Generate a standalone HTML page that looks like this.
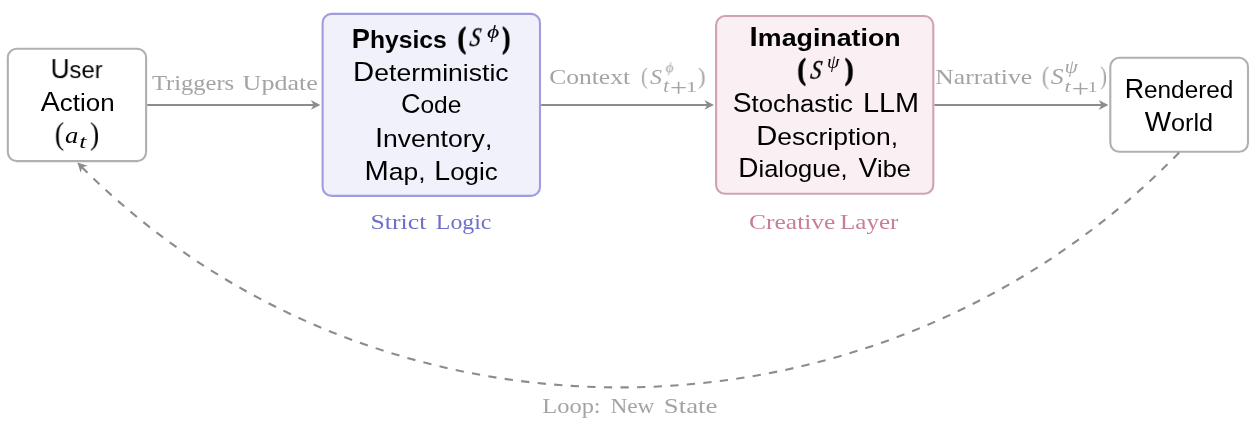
<!DOCTYPE html>
<html><head><meta charset="utf-8">
<style>
html,body{margin:0;padding:0;background:#fff;width:1255px;height:424px;overflow:hidden}
svg{display:block}
text{will-change:transform}
svg{will-change:transform}
</style></head>
<body>
<svg width="1255" height="424" viewBox="0 0 1255 424">
<rect x="7.8" y="48.7" width="138.3" height="112.4" rx="9" ry="9" fill="#fff" stroke="#b0b0b0" stroke-width="2.1"/>
<rect x="322.6" y="13.9" width="217.4" height="182" rx="9" ry="9" fill="#f1f1fc" stroke="#a09ddf" stroke-width="2.1"/>
<rect x="716.1" y="16" width="217.2" height="177.8" rx="9" ry="9" fill="#faeff2" stroke="#d0a2b6" stroke-width="2.1"/>
<rect x="1110.3" y="57.8" width="137.7" height="94" rx="9" ry="9" fill="#fff" stroke="#b0b0b0" stroke-width="2.1"/>
<g stroke="#8c8c8c" stroke-width="2" fill="none">
<line x1="147.2" y1="104.9" x2="314.5" y2="104.9"/>
<line x1="541.1" y1="104.9" x2="708" y2="104.9"/>
<line x1="934.4" y1="104.9" x2="1102" y2="104.9"/>
</g>
<g fill="#8c8c8c">
<path d="M320.4,104.9 L310.8,100 L313.7,104.9 L310.8,109.8 Z"/>
<path d="M714,104.9 L704.4,100 L707.3,104.9 L704.4,109.8 Z"/>
<path d="M1108.4,104.9 L1098.6,99.9 L1101.5,104.9 L1098.6,109.9 Z"/>
<path transform="translate(77.4 162.4) rotate(-134.6)" d="M0,0 L-9.6,-4.9 L-6.8,0 L-9.6,4.9 Z" transform-origin="0 0"/>
</g>
<path d="M1179.2,152.5 C881.1,459.4 378.8,468.4 77.5,162.8" fill="none" stroke="#8c8c8c" stroke-width="2.1" stroke-dasharray="8.3 8.3"/>
<text transform="translate(50.64 78.10) scale(0.9784 1) skewX(0.00)" style="font-family:'Liberation Sans',sans-serif;font-style:normal;font-weight:normal;font-size:26.00px;fill:#000000"><tspan style="font-size:26.80px">U</tspan><tspan style="font-size:24.30px">s</tspan><tspan style="font-size:24.30px">e</tspan><tspan style="font-size:24.30px">r</tspan></text>
<text transform="translate(40.70 111.00) scale(1.0676 1) skewX(0.00)" style="font-family:'Liberation Sans',sans-serif;font-style:normal;font-weight:normal;font-size:26.00px;fill:#000000"><tspan style="font-size:26.80px">A</tspan><tspan style="font-size:24.30px">c</tspan><tspan style="font-size:24.30px">t</tspan><tspan style="font-size:24.30px">i</tspan><tspan style="font-size:24.30px">o</tspan><tspan style="font-size:24.30px">n</tspan></text>
<text transform="translate(54.78 144.17) scale(0.9025 1) skewX(0.00)" style="font-family:'Liberation Serif',serif;font-style:normal;font-weight:normal;font-size:31.11px;fill:#000000">(</text>
<text transform="translate(64.90 143.26) scale(1.1163 1) skewX(0.00)" style="font-family:'Liberation Serif',serif;font-style:italic;font-weight:normal;font-size:23.96px;fill:#000000">a</text>
<text transform="translate(79.18 147.91) scale(1.3154 1) skewX(0.00)" style="font-family:'Liberation Serif',serif;font-style:italic;font-weight:normal;font-size:19.30px;fill:#000000">t</text>
<text transform="translate(89.86 144.17) scale(0.9025 1) skewX(0.00)" style="font-family:'Liberation Serif',serif;font-style:normal;font-weight:normal;font-size:31.11px;fill:#000000">)</text>
<text transform="translate(351.77 47.90) scale(1.0154 1) skewX(0.00)" style="font-family:'Liberation Sans',sans-serif;font-style:normal;font-weight:bold;font-size:26.00px;fill:#000000"><tspan style="font-size:26.80px">P</tspan><tspan style="font-size:24.30px">h</tspan><tspan style="font-size:24.30px">y</tspan><tspan style="font-size:24.30px">s</tspan><tspan style="font-size:24.30px">i</tspan><tspan style="font-size:24.30px">c</tspan><tspan style="font-size:24.30px">s</tspan></text>
<text transform="translate(457.77 47.67) scale(0.8360 1) skewX(0.00)" style="font-family:'Liberation Serif',serif;font-style:normal;font-weight:bold;font-size:29.44px;fill:#000000;stroke:#000000;stroke-width:1.30px;stroke-linejoin:round">(</text>
<text transform="translate(469.08 46.43) scale(0.7830 1) skewX(-10.00)" style="font-family:'Liberation Serif',serif;font-style:italic;font-weight:normal;font-size:26.87px;fill:#000000;stroke:#000000;stroke-width:0.40px;stroke-linejoin:round">S</text>
<text transform="translate(487.34 37.52) scale(1.2413 1) skewX(0.00)" style="font-family:'Liberation Serif',serif;font-style:italic;font-weight:normal;font-size:18.46px;fill:#000000;stroke:#000000;stroke-width:0.20px;stroke-linejoin:round">ϕ</text>
<text transform="translate(502.47 47.67) scale(0.7707 1) skewX(0.00)" style="font-family:'Liberation Serif',serif;font-style:normal;font-weight:bold;font-size:29.44px;fill:#000000;stroke:#000000;stroke-width:1.30px;stroke-linejoin:round">)</text>
<text transform="translate(353.11 80.80) scale(1.0929 1) skewX(0.00)" style="font-family:'Liberation Sans',sans-serif;font-style:normal;font-weight:normal;font-size:26.00px;fill:#000000"><tspan style="font-size:26.80px">D</tspan><tspan style="font-size:24.30px">e</tspan><tspan style="font-size:24.30px">t</tspan><tspan style="font-size:24.30px">e</tspan><tspan style="font-size:24.30px">r</tspan><tspan style="font-size:24.30px">m</tspan><tspan style="font-size:24.30px">i</tspan><tspan style="font-size:24.30px">n</tspan><tspan style="font-size:24.30px">i</tspan><tspan style="font-size:24.30px">s</tspan><tspan style="font-size:24.30px">t</tspan><tspan style="font-size:24.30px">i</tspan><tspan style="font-size:24.30px">c</tspan></text>
<text transform="translate(400.89 113.10) scale(1.0103 1) skewX(0.00)" style="font-family:'Liberation Sans',sans-serif;font-style:normal;font-weight:normal;font-size:26.00px;fill:#000000"><tspan style="font-size:26.80px">C</tspan><tspan style="font-size:24.30px">o</tspan><tspan style="font-size:24.30px">d</tspan><tspan style="font-size:24.30px">e</tspan></text>
<text transform="translate(374.92 146.80) scale(1.0922 1) skewX(0.00)" style="font-family:'Liberation Sans',sans-serif;font-style:normal;font-weight:normal;font-size:26.00px;fill:#000000"><tspan style="font-size:26.80px">I</tspan><tspan style="font-size:24.30px">n</tspan><tspan style="font-size:24.30px">v</tspan><tspan style="font-size:24.30px">e</tspan><tspan style="font-size:24.30px">n</tspan><tspan style="font-size:24.30px">t</tspan><tspan style="font-size:24.30px">o</tspan><tspan style="font-size:24.30px">r</tspan><tspan style="font-size:24.30px">y</tspan><tspan style="font-size:24.30px">,</tspan></text>
<text transform="translate(364.53 179.80) scale(1.0865 1) skewX(0.00)" style="font-family:'Liberation Sans',sans-serif;font-style:normal;font-weight:normal;font-size:26.00px;fill:#000000"><tspan style="font-size:26.80px">M</tspan><tspan style="font-size:24.30px">a</tspan><tspan style="font-size:24.30px">p</tspan><tspan style="font-size:24.30px">,</tspan></text>
<text transform="translate(434.27 179.80) scale(1.0667 1) skewX(0.00)" style="font-family:'Liberation Sans',sans-serif;font-style:normal;font-weight:normal;font-size:26.00px;fill:#000000"><tspan style="font-size:26.80px">L</tspan><tspan style="font-size:24.30px">o</tspan><tspan style="font-size:24.30px">g</tspan><tspan style="font-size:24.30px">i</tspan><tspan style="font-size:24.30px">c</tspan></text>
<text transform="translate(749.60 45.70) scale(1.1022 1) skewX(0.00)" style="font-family:'Liberation Sans',sans-serif;font-style:normal;font-weight:bold;font-size:26.00px;fill:#000000"><tspan style="font-size:26.80px">I</tspan><tspan style="font-size:24.30px">m</tspan><tspan style="font-size:24.30px">a</tspan><tspan style="font-size:24.30px">g</tspan><tspan style="font-size:24.30px">i</tspan><tspan style="font-size:24.30px">n</tspan><tspan style="font-size:24.30px">a</tspan><tspan style="font-size:24.30px">t</tspan><tspan style="font-size:24.30px">i</tspan><tspan style="font-size:24.30px">o</tspan><tspan style="font-size:24.30px">n</tspan></text>
<text transform="translate(797.68 79.09) scale(0.8260 1) skewX(0.00)" style="font-family:'Liberation Serif',serif;font-style:normal;font-weight:bold;font-size:29.33px;fill:#000000;stroke:#000000;stroke-width:1.30px;stroke-linejoin:round">(</text>
<text transform="translate(809.66 79.02) scale(0.7845 1) skewX(-10.00)" style="font-family:'Liberation Serif',serif;font-style:italic;font-weight:normal;font-size:27.91px;fill:#000000;stroke:#000000;stroke-width:0.40px;stroke-linejoin:round">S</text>
<text transform="translate(826.91 68.20) scale(1.0165 1) skewX(0.00)" style="font-family:'Liberation Serif',serif;font-style:italic;font-weight:normal;font-size:19.51px;fill:#000000">ψ</text>
<text transform="translate(845.01 79.09) scale(0.8392 1) skewX(0.00)" style="font-family:'Liberation Serif',serif;font-style:normal;font-weight:bold;font-size:29.33px;fill:#000000;stroke:#000000;stroke-width:1.30px;stroke-linejoin:round">)</text>
<text transform="translate(732.64 112.20) scale(1.0566 1) skewX(0.00)" style="font-family:'Liberation Sans',sans-serif;font-style:normal;font-weight:normal;font-size:26.00px;fill:#000000"><tspan style="font-size:26.80px">S</tspan><tspan style="font-size:24.30px">t</tspan><tspan style="font-size:24.30px">o</tspan><tspan style="font-size:24.30px">c</tspan><tspan style="font-size:24.30px">h</tspan><tspan style="font-size:24.30px">a</tspan><tspan style="font-size:24.30px">s</tspan><tspan style="font-size:24.30px">t</tspan><tspan style="font-size:24.30px">i</tspan><tspan style="font-size:24.30px">c</tspan></text>
<text transform="translate(862.95 112.20) scale(1.0771 1) skewX(0.00)" style="font-family:'Liberation Sans',sans-serif;font-style:normal;font-weight:normal;font-size:26.00px;fill:#000000"><tspan style="font-size:26.80px">L</tspan><tspan style="font-size:26.80px">L</tspan><tspan style="font-size:26.80px">M</tspan></text>
<text transform="translate(756.22 144.70) scale(1.0905 1) skewX(0.00)" style="font-family:'Liberation Sans',sans-serif;font-style:normal;font-weight:normal;font-size:26.00px;fill:#000000"><tspan style="font-size:26.80px">D</tspan><tspan style="font-size:24.30px">e</tspan><tspan style="font-size:24.30px">s</tspan><tspan style="font-size:24.30px">c</tspan><tspan style="font-size:24.30px">r</tspan><tspan style="font-size:24.30px">i</tspan><tspan style="font-size:24.30px">p</tspan><tspan style="font-size:24.30px">t</tspan><tspan style="font-size:24.30px">i</tspan><tspan style="font-size:24.30px">o</tspan><tspan style="font-size:24.30px">n</tspan><tspan style="font-size:24.30px">,</tspan></text>
<text transform="translate(738.20 177.30) scale(1.0475 1) skewX(0.00)" style="font-family:'Liberation Sans',sans-serif;font-style:normal;font-weight:normal;font-size:26.00px;fill:#000000"><tspan style="font-size:26.80px">D</tspan><tspan style="font-size:24.30px">i</tspan><tspan style="font-size:24.30px">a</tspan><tspan style="font-size:24.30px">l</tspan><tspan style="font-size:24.30px">o</tspan><tspan style="font-size:24.30px">g</tspan><tspan style="font-size:24.30px">u</tspan><tspan style="font-size:24.30px">e</tspan><tspan style="font-size:24.30px">,</tspan></text>
<text transform="translate(858.50 177.30) scale(1.0420 1) skewX(0.00)" style="font-family:'Liberation Sans',sans-serif;font-style:normal;font-weight:normal;font-size:26.00px;fill:#000000"><tspan style="font-size:26.80px">V</tspan><tspan style="font-size:24.30px">i</tspan><tspan style="font-size:24.30px">b</tspan><tspan style="font-size:24.30px">e</tspan></text>
<text transform="translate(1124.70 98.00) scale(1.0010 1) skewX(0.00)" style="font-family:'Liberation Sans',sans-serif;font-style:normal;font-weight:normal;font-size:26.00px;fill:#000000"><tspan style="font-size:26.80px">R</tspan><tspan style="font-size:24.30px">e</tspan><tspan style="font-size:24.30px">n</tspan><tspan style="font-size:24.30px">d</tspan><tspan style="font-size:24.30px">e</tspan><tspan style="font-size:24.30px">r</tspan><tspan style="font-size:24.30px">e</tspan><tspan style="font-size:24.30px">d</tspan></text>
<text transform="translate(1144.70 130.70) scale(1.0385 1) skewX(0.00)" style="font-family:'Liberation Sans',sans-serif;font-style:normal;font-weight:normal;font-size:26.00px;fill:#000000"><tspan style="font-size:26.80px">W</tspan><tspan style="font-size:24.30px">o</tspan><tspan style="font-size:24.30px">r</tspan><tspan style="font-size:24.30px">l</tspan><tspan style="font-size:24.30px">d</tspan></text>
<text transform="translate(151.90 89.60) scale(1.1164 1) skewX(0.00)" style="font-family:'Liberation Serif',serif;font-style:normal;font-weight:normal;font-size:22.00px;fill:#a4a4a4">Triggers</text>
<text transform="translate(242.60 89.60) scale(1.1841 1) skewX(0.00)" style="font-family:'Liberation Serif',serif;font-style:normal;font-weight:normal;font-size:22.00px;fill:#a4a4a4">Update</text>
<text transform="translate(549.14 83.80) scale(1.1623 1) skewX(0.00)" style="font-family:'Liberation Serif',serif;font-style:normal;font-weight:normal;font-size:22.00px;fill:#a4a4a4">Context</text>
<text transform="translate(640.98 83.88) scale(0.8533 1) skewX(0.00)" style="font-family:'Liberation Serif',serif;font-style:normal;font-weight:normal;font-size:23.89px;fill:#a4a4a4">(</text>
<text transform="translate(650.06 83.96) scale(1.0949 1) skewX(0.00)" style="font-family:'Liberation Serif',serif;font-style:italic;font-weight:normal;font-size:21.76px;fill:#a4a4a4">S</text>
<text transform="translate(665.70 72.29) scale(0.9820 1) skewX(0.00)" style="font-family:'Liberation Serif',serif;font-style:italic;font-weight:normal;font-size:15.27px;fill:#a4a4a4">ϕ</text>
<text transform="translate(663.37 91.81) scale(1.1064 1) skewX(0.00)" style="font-family:'Liberation Serif',serif;font-style:italic;font-weight:normal;font-size:18.77px;fill:#a4a4a4">t</text>
<text transform="translate(669.88 96.27) scale(1.2328 1) skewX(0.00)" style="font-family:'Liberation Serif',serif;font-style:normal;font-weight:normal;font-size:24.68px;fill:#a4a4a4">+</text>
<text transform="translate(685.92 92.00) scale(1.4816 1) skewX(0.00)" style="font-family:'Liberation Serif',serif;font-style:normal;font-weight:normal;font-size:14.85px;fill:#a4a4a4">1</text>
<text transform="translate(698.03 83.88) scale(0.9338 1) skewX(0.00)" style="font-family:'Liberation Serif',serif;font-style:normal;font-weight:normal;font-size:23.89px;fill:#a4a4a4">)</text>
<text transform="translate(935.33 83.60) scale(1.1659 1) skewX(0.00)" style="font-family:'Liberation Serif',serif;font-style:normal;font-weight:normal;font-size:22.00px;fill:#a4a4a4">Narrative</text>
<text transform="translate(1041.81 84.12) scale(0.9044 1) skewX(0.00)" style="font-family:'Liberation Serif',serif;font-style:normal;font-weight:normal;font-size:24.67px;fill:#a4a4a4">(</text>
<text transform="translate(1050.64 84.06) scale(1.1671 1) skewX(0.00)" style="font-family:'Liberation Serif',serif;font-style:italic;font-weight:normal;font-size:22.06px;fill:#a4a4a4">S</text>
<text transform="translate(1064.65 72.65) scale(1.0561 1) skewX(0.00)" style="font-family:'Liberation Serif',serif;font-style:italic;font-weight:normal;font-size:19.75px;fill:#a4a4a4">ψ</text>
<text transform="translate(1064.61 92.03) scale(1.3245 1) skewX(0.00)" style="font-family:'Liberation Serif',serif;font-style:italic;font-weight:normal;font-size:16.84px;fill:#a4a4a4">t</text>
<text transform="translate(1071.66 97.19) scale(1.2393 1) skewX(0.00)" style="font-family:'Liberation Serif',serif;font-style:normal;font-weight:normal;font-size:24.89px;fill:#a4a4a4">+</text>
<text transform="translate(1087.85 92.20) scale(1.3357 1) skewX(0.00)" style="font-family:'Liberation Serif',serif;font-style:normal;font-weight:normal;font-size:14.55px;fill:#a4a4a4">1</text>
<text transform="translate(1100.20 84.12) scale(0.8108 1) skewX(0.00)" style="font-family:'Liberation Serif',serif;font-style:normal;font-weight:normal;font-size:24.67px;fill:#a4a4a4">)</text>
<text transform="translate(370.53 228.60) scale(1.1702 1) skewX(0.00)" style="font-family:'Liberation Serif',serif;font-style:normal;font-weight:normal;font-size:22.00px;fill:#6e6ecc">Strict</text>
<text transform="translate(435.82 228.60) scale(1.0840 1) skewX(0.00)" style="font-family:'Liberation Serif',serif;font-style:normal;font-weight:normal;font-size:22.00px;fill:#6e6ecc">Logic</text>
<text transform="translate(749.04 228.60) scale(1.1603 1) skewX(0.00)" style="font-family:'Liberation Serif',serif;font-style:normal;font-weight:normal;font-size:22.00px;fill:#c97c9c">Creative</text>
<text transform="translate(840.06 228.60) scale(1.1373 1) skewX(0.00)" style="font-family:'Liberation Serif',serif;font-style:normal;font-weight:normal;font-size:22.00px;fill:#c97c9c">Layer</text>
<text transform="translate(542.19 412.90) scale(1.1140 1) skewX(0.00)" style="font-family:'Liberation Serif',serif;font-style:normal;font-weight:normal;font-size:22.00px;fill:#a4a4a4">Loop:</text>
<text transform="translate(610.44 412.90) scale(1.0585 1) skewX(0.00)" style="font-family:'Liberation Serif',serif;font-style:normal;font-weight:normal;font-size:22.00px;fill:#a4a4a4">New</text>
<text transform="translate(663.78 412.90) scale(1.2186 1) skewX(0.00)" style="font-family:'Liberation Serif',serif;font-style:normal;font-weight:normal;font-size:22.00px;fill:#a4a4a4">State</text>
</svg>
</body></html>
